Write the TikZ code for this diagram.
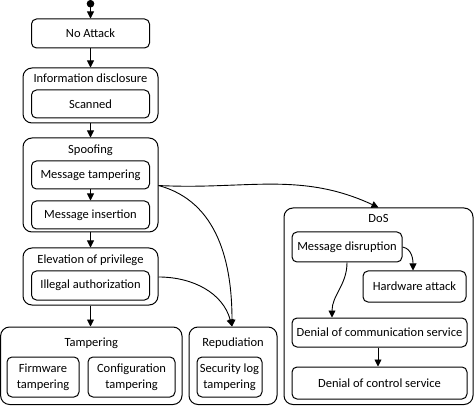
\documentclass[tikz,border=0pt]{standalone}
\usepackage{fontspec}
\setmainfont{Carlito}
\usetikzlibrary{positioning, arrows.meta}

\begin{document}
\begin{tikzpicture}[x=1pt, y=1pt, font=\fontsize{12.5}{16}\selectfont,
  state/.style={draw, rounded corners=5pt, line width=1pt, minimum width=118pt, minimum height=28pt, inner sep=1pt, align=center},
  group/.style={draw, rounded corners=9pt, line width=1pt, inner sep=0pt},
  ttl/.style={inner sep=0pt, anchor=base},
  go/.style={-{Triangle[length=7pt, width=7pt]}, line width=0.9pt}]

\useasboundingbox (0,0) rectangle (474,-406);

\coordinate (init) at (90.5,0);

\node[state, minimum height=29pt] (noatk) at (90.5,-33.5) {No Attack};

\draw[{Circle[length=7.5pt]}-{Triangle[length=7pt, width=7pt]}, line width=0.9pt] (init) -- (noatk);

\node[group, minimum width=135pt, minimum height=55pt] (info) at (90.5,-95.5) {};
\node[ttl, below=15pt of info.north, anchor=base] (infot) {Information disclosure};
\node[state] (scan) at (90.5,-104) {Scanned};

\node[group, minimum width=135pt, minimum height=94pt] (spoof) at (90.5,-185) {};
\node[ttl, below=16pt of spoof.north, anchor=base] (spooft) {Spoofing};
\node[state] (msgtamp) at (90.5,-175) {Message tampering};
\node[state, below=11pt of msgtamp] (msgins) {Message insertion};

\node[group, minimum width=135pt, minimum height=57pt] (elev) at (90.5,-276.5) {};
\node[ttl, below=16pt of elev.north, anchor=base] (elevt) {Elevation of privilege};
\node[state, minimum height=29pt] (illauth) at (90.5,-285.5) {Illegal authorization};

\node[group, minimum width=181.4pt, minimum height=77.5pt] (tamp) at (91.3,-365.75) {};
\node[ttl, below=20pt of tamp.north, anchor=base] (tampt) {Tampering};
\node[state, minimum width=72pt, minimum height=40pt] (firm) at (43,-377) {Firmware\\tampering};
\node[state, minimum width=87pt, minimum height=40pt, right=8pt of firm] (config) {Configuration\\tampering};

\node[group, minimum width=88pt, minimum height=77.5pt] (repud) at (233,-365.75) {};
\node[ttl, below=20pt of repud.north, anchor=base] (repudt) {Repudiation};
\node[state, minimum width=65pt, minimum height=40pt] (seclog) at (229.5,-377) {Security log\\tampering};

\node[group, minimum width=189pt, minimum height=196.5pt] (dos) at (378.5,-306.25) {};
\node[ttl, below=15pt of dos.north, anchor=base] (dost) {DoS};
\node[state, minimum width=110pt, minimum height=30pt] (msgdis) at (347,-247) {Message disruption};
\node[state, minimum width=103pt, minimum height=31pt] (hwatk) at (414.5,-286.5) {Hardware attack};
\node[state, minimum width=175pt, minimum height=29pt] (denicom) at (379.5,-332.5) {Denial of communication service};
\node[state, minimum width=175pt, minimum height=32pt, below=19pt of denicom] (denictl) {Denial of control service};

\draw[go] (noatk) -- (info);
\draw[go] (info) -- (spoof);
\draw[go] (msgtamp) -- (msgins);
\draw[go] (spoof) -- (elev);
\draw[go] (elev.south) -- (elev.south |- tamp.north);

\draw[go] ([yshift=4pt]spoof.east |- msgtamp.south) to [out=-3,in=155] (dos.north);
\draw[go] ([yshift=4pt]spoof.east |- msgtamp.south) to [out=-15,in=90] ([xshift=-1pt]repud.north);
\draw[go] ([yshift=8.5pt]spoof.east |- illauth) to [out=0,in=105] ([xshift=-1pt]repud.north);

\draw[go] (msgdis.east) to [out=-10,in=90] ([xshift=-1.5pt]hwatk.north);
\draw[go] (msgdis.south) to [out=-90,in=90] ([xshift=-47.5pt]denicom.north);
\draw[go] ([xshift=-1.5pt]denicom.south) -- ([xshift=-1.5pt]denictl.north);

\end{tikzpicture}
\end{document}
